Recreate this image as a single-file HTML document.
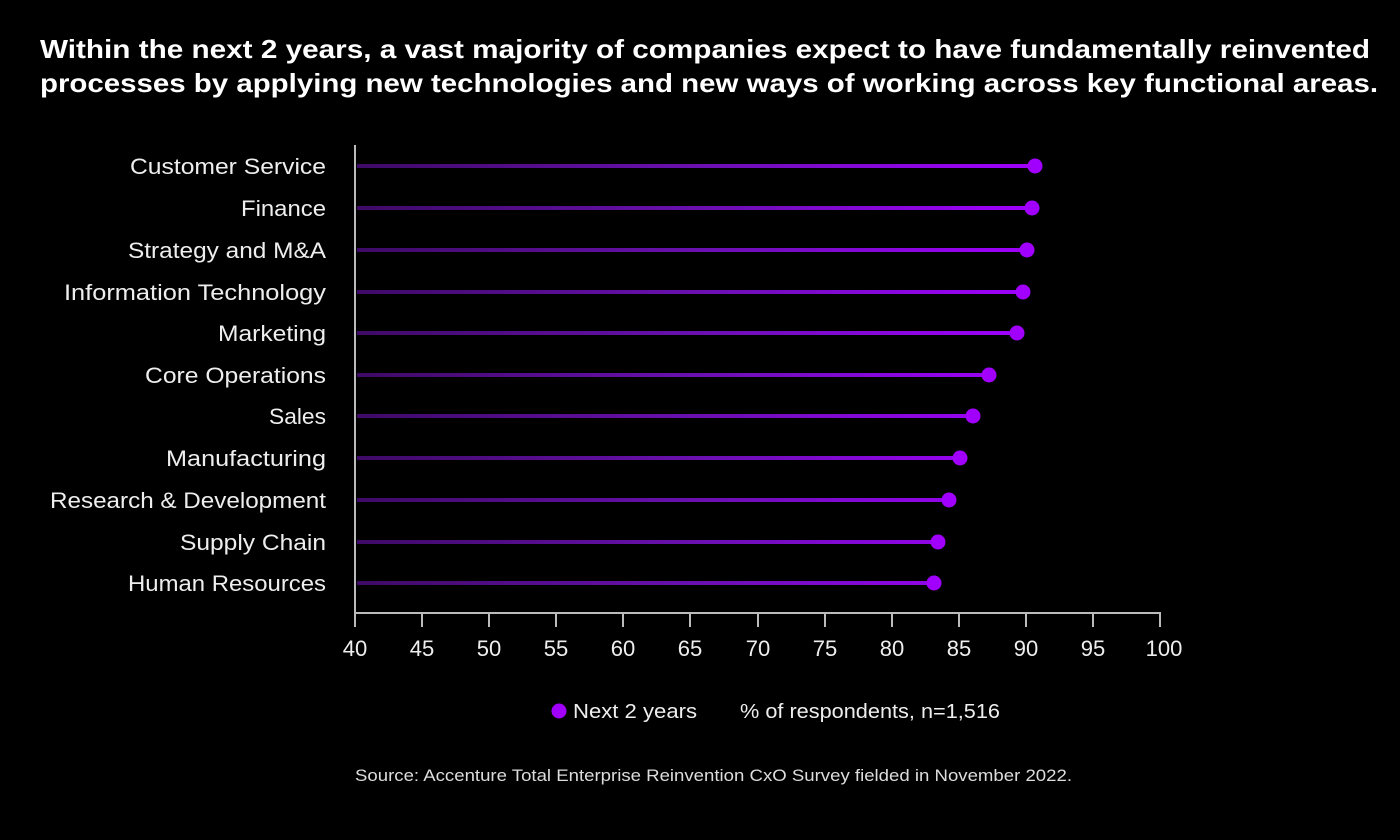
<!DOCTYPE html>
<html><head><meta charset="utf-8"><style>
html,body{margin:0;padding:0;background:#000;}
svg{display:block;font-family:"Liberation Sans",sans-serif;}
</style></head><body>
<svg width="1400" height="840" viewBox="0 0 1400 840" xmlns="http://www.w3.org/2000/svg">
<defs>
<linearGradient id="g" gradientUnits="userSpaceOnUse" x1="355" y1="0" x2="1040" y2="0">
<stop offset="0" stop-color="#3e0a66"/><stop offset="0.5" stop-color="#6a10b0"/><stop offset="1" stop-color="#a100ff"/>
</linearGradient>
</defs>
<rect width="1400" height="840" fill="#000"/>
<text x="40" y="58" fill="#fff" font-size="26" font-weight="bold" textLength="1330" lengthAdjust="spacingAndGlyphs">Within the next 2 years, a vast majority of companies expect to have fundamentally reinvented</text>
<text x="40" y="92" fill="#fff" font-size="26" font-weight="bold" textLength="1338" lengthAdjust="spacingAndGlyphs">processes by applying new technologies and new ways of working across key functional areas.</text>
<g stroke="#bbb" stroke-width="2" fill="none">
<line x1="355" y1="145" x2="355" y2="614"/>
<line x1="354" y1="613" x2="1161" y2="613"/>
</g>
<g stroke="#bbb" stroke-width="2">
<line x1="355" y1="613" x2="355" y2="627"/><line x1="422" y1="613" x2="422" y2="627"/><line x1="489" y1="613" x2="489" y2="627"/><line x1="556" y1="613" x2="556" y2="627"/><line x1="623" y1="613" x2="623" y2="627"/><line x1="690" y1="613" x2="690" y2="627"/><line x1="758" y1="613" x2="758" y2="627"/><line x1="825" y1="613" x2="825" y2="627"/><line x1="892" y1="613" x2="892" y2="627"/><line x1="959" y1="613" x2="959" y2="627"/><line x1="1026" y1="613" x2="1026" y2="627"/><line x1="1093" y1="613" x2="1093" y2="627"/><line x1="1160" y1="613" x2="1160" y2="627"/>
</g>
<g fill="#eee" font-size="22" text-anchor="middle">
<text x="355" y="656">40</text><text x="422" y="656">45</text><text x="489" y="656">50</text><text x="556" y="656">55</text><text x="623" y="656">60</text><text x="690" y="656">65</text><text x="758" y="656">70</text><text x="825" y="656">75</text><text x="892" y="656">80</text><text x="959" y="656">85</text><text x="1026" y="656">90</text><text x="1093" y="656">95</text><text x="1164" y="656">100</text>
</g>
<g stroke="url(#g)" stroke-width="4">
<line x1="357" y1="166" x2="1035" y2="166"/>
<line x1="357" y1="208" x2="1032" y2="208"/>
<line x1="357" y1="250" x2="1027" y2="250"/>
<line x1="357" y1="292" x2="1023" y2="292"/>
<line x1="357" y1="333" x2="1017" y2="333"/>
<line x1="357" y1="375" x2="989" y2="375"/>
<line x1="357" y1="416" x2="973" y2="416"/>
<line x1="357" y1="458" x2="960" y2="458"/>
<line x1="357" y1="500" x2="949" y2="500"/>
<line x1="357" y1="542" x2="938" y2="542"/>
<line x1="357" y1="583" x2="934" y2="583"/>
</g>
<g fill="#a100ff">
<circle cx="1035" cy="166" r="7.5"/><circle cx="1032" cy="208" r="7.5"/><circle cx="1027" cy="250" r="7.5"/><circle cx="1023" cy="292" r="7.5"/><circle cx="1017" cy="333" r="7.5"/><circle cx="989" cy="375" r="7.5"/><circle cx="973" cy="416" r="7.5"/><circle cx="960" cy="458" r="7.5"/><circle cx="949" cy="500" r="7.5"/><circle cx="938" cy="542" r="7.5"/><circle cx="934" cy="583" r="7.5"/>
</g>
<g fill="#eee" font-size="22">
<text x="130" y="174" textLength="196" lengthAdjust="spacingAndGlyphs">Customer Service</text>
<text x="241" y="216" textLength="85" lengthAdjust="spacingAndGlyphs">Finance</text>
<text x="128" y="258" textLength="198" lengthAdjust="spacingAndGlyphs">Strategy and M&amp;A</text>
<text x="64" y="300" textLength="262" lengthAdjust="spacingAndGlyphs">Information Technology</text>
<text x="218" y="341" textLength="108" lengthAdjust="spacingAndGlyphs">Marketing</text>
<text x="145" y="383" textLength="181" lengthAdjust="spacingAndGlyphs">Core Operations</text>
<text x="269" y="424" textLength="57" lengthAdjust="spacingAndGlyphs">Sales</text>
<text x="166" y="466" textLength="160" lengthAdjust="spacingAndGlyphs">Manufacturing</text>
<text x="50" y="508" textLength="276" lengthAdjust="spacingAndGlyphs">Research &amp; Development</text>
<text x="180" y="550" textLength="146" lengthAdjust="spacingAndGlyphs">Supply Chain</text>
<text x="128" y="591" textLength="198" lengthAdjust="spacingAndGlyphs">Human Resources</text>
</g>
<circle cx="559" cy="711" r="7.5" fill="#a100ff"/>
<text x="573" y="718" fill="#eee" font-size="20" textLength="124" lengthAdjust="spacingAndGlyphs">Next 2 years</text>
<text x="740" y="718" fill="#eee" font-size="20" textLength="260" lengthAdjust="spacingAndGlyphs">% of respondents, n=1,516</text>
<text x="355" y="781" fill="#ddd" font-size="17" textLength="717" lengthAdjust="spacingAndGlyphs">Source: Accenture Total Enterprise Reinvention CxO Survey fielded in November 2022.</text>
</svg>
</body></html>
